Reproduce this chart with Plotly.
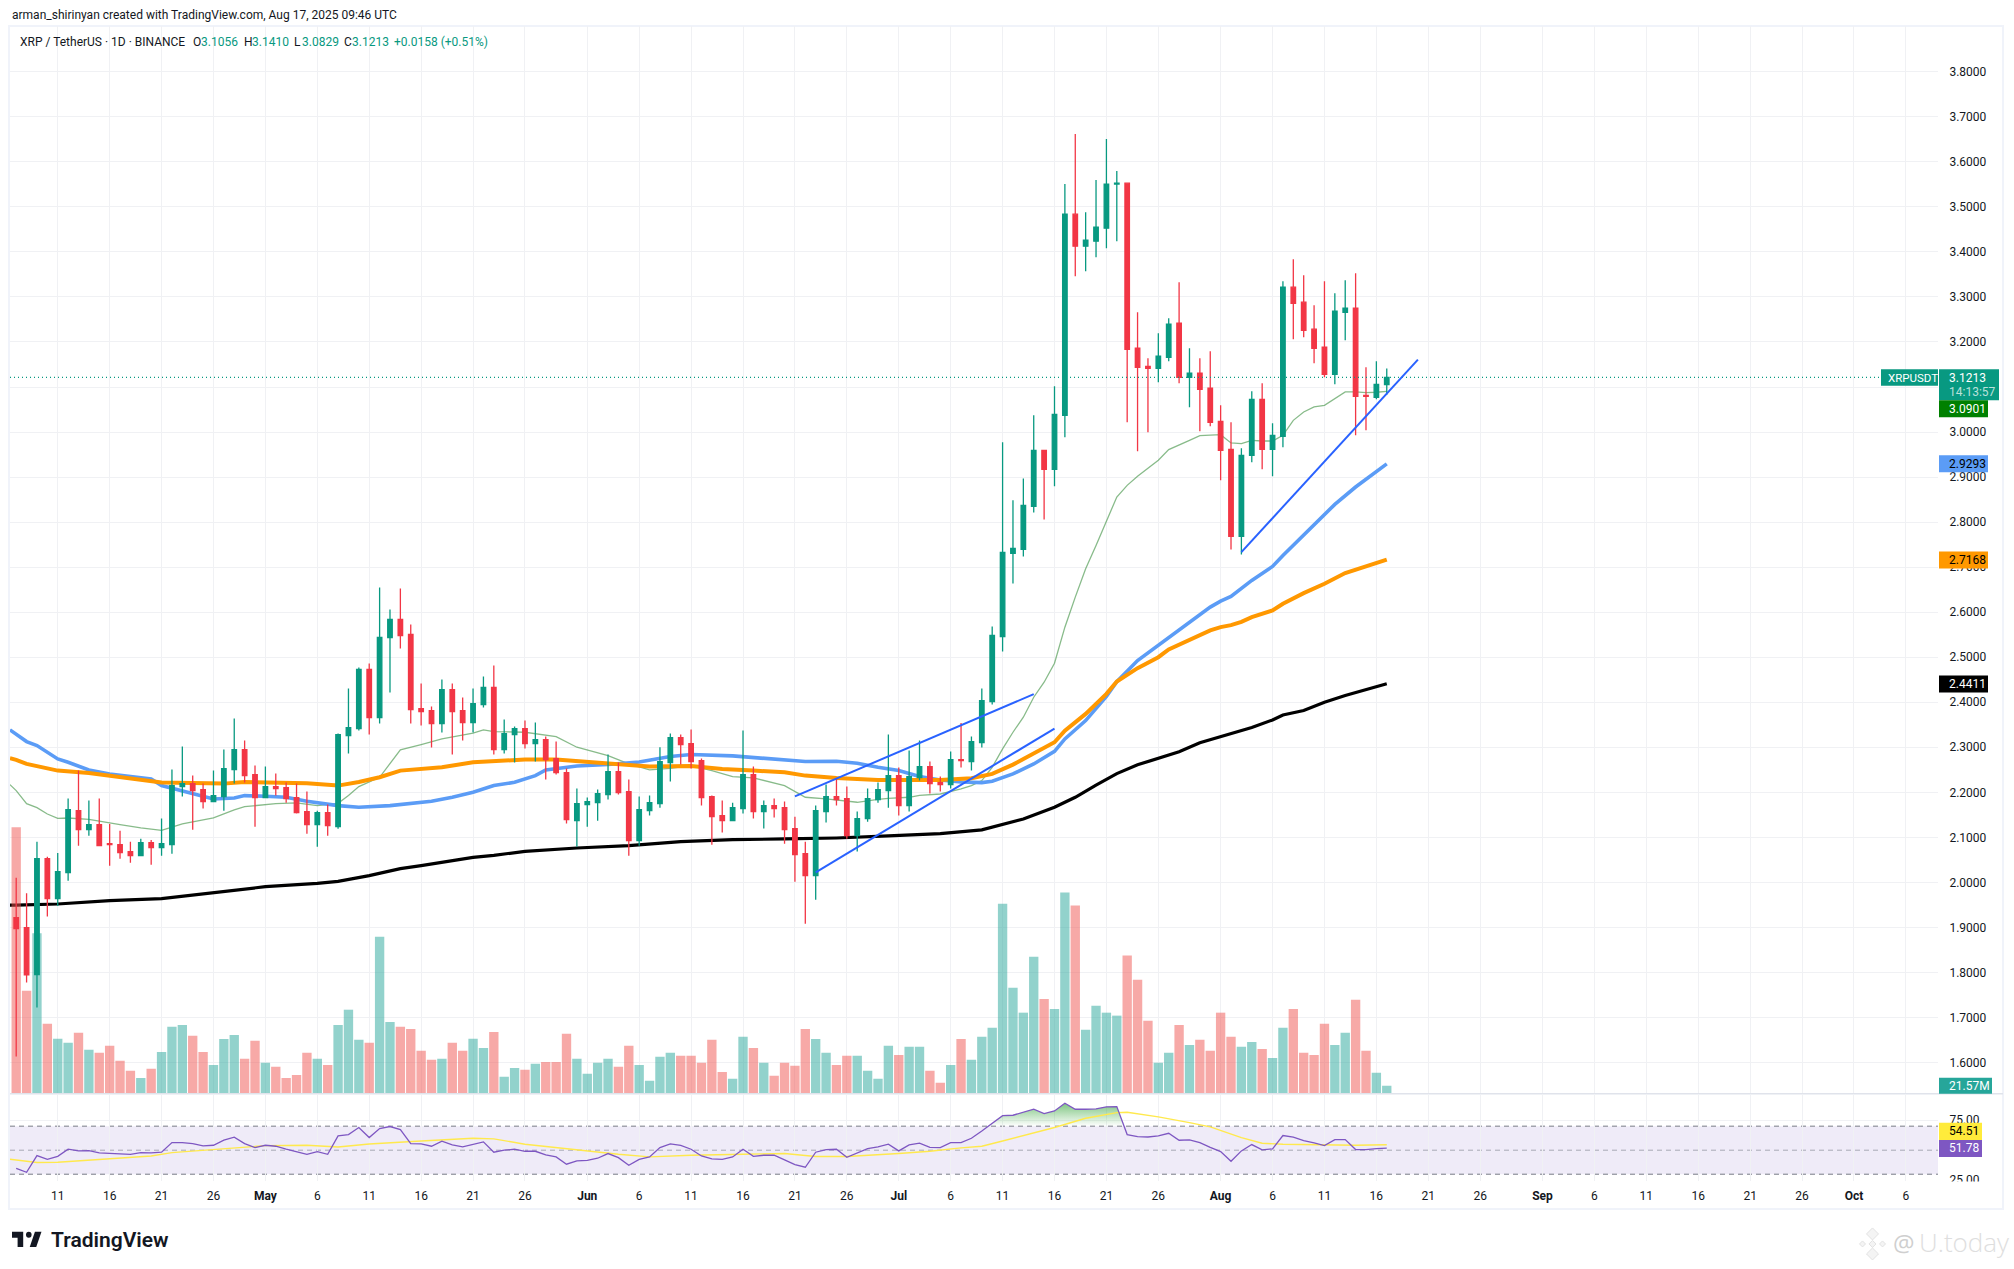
import pandas as pd
import plotly.graph_objects as go

W, H = 2014, 1277
Y_STRETCH = 1.0055
START = "2025-04-07"

# ---------------- data ----------------
OPEN = [1.9216,1.8993,1.795,2.0527,1.9638,2.0216,2.1593,2.1171,2.1282,2.0860,
2.0838,2.0682,2.0593,2.0882,2.0771,2.0838,2.2127,2.2193,2.206,2.1793,
2.1905,2.2505,2.2949,2.2393,2.1882,2.2127,2.2105,2.1882,2.1571,2.1282,
2.1549,2.1238,2.326,2.3416,2.4727,2.366,2.5438,2.5838,2.5505,2.386,
2.3816,2.3527,2.4282,2.3816,2.3549,2.3949,2.4327,2.2949,2.3283,2.3416,
2.3083,2.3171,2.2749,2.2438,2.1371,2.1727,2.1771,2.1949,2.2460,2.2016,
2.0927,2.1594,2.1749,2.2660,2.3216,2.3083,2.2705,2.1905,2.1483,2.1371,
2.1638,2.2394,2.1571,2.1705,2.166,2.1194,2.0638,2.015,2.1571,2.1905,
2.1860,2.1038,2.1416,2.1838,2.2038,2.2371,2.1705,2.2327,2.2572,2.2216,
2.2172,2.2727,2.2683,2.3104,2.4015,2.5460,2.7305,2.7394,2.8349,2.9594,
2.9172,3.0372,3.4838,3.4127,3.4238,3.4527,3.5505,3.5527,3.186,3.146,
3.1416,3.166,3.2416,3.1216,3.1305,3.0972,3.0238,2.9616,2.7683,2.9483,
3.0727,2.9616,2.9905,3.3216,3.2883,3.2283,3.1883,3.1283,3.266,3.2749,
3.0816,3.0771,3.1056]
HIGH = [2.0105,1.9756,2.0905,2.0571,2.0653,2.186,2.2482,2.1816,2.186,2.1297,
2.1149,2.0905,2.0971,2.0942,2.1416,2.2505,2.3016,2.2371,2.2193,2.2482,
2.2949,2.3638,2.3149,2.2593,2.2571,2.2416,2.2216,2.2193,2.2016,2.1593,
2.1727,2.3305,2.4305,2.4771,2.486,2.6549,2.606,2.6527,2.5727,2.4416,
2.3905,2.4505,2.4416,2.4105,2.4305,2.4571,2.4816,2.3616,2.346,2.3594,
2.3549,2.3238,2.3127,2.2527,2.2083,2.1883,2.2060,2.2838,2.2660,2.2283,
2.1905,2.1927,2.3,2.3305,2.3283,2.3394,2.2749,2.1927,2.1816,2.1771,
2.3371,2.2571,2.1816,2.186,2.1794,2.1460,2.0905,2.1705,2.2171,2.2305,
2.2127,2.1572,2.2083,2.2216,2.3283,2.2549,2.2927,2.3149,2.2683,2.2349,
2.2905,2.3541,2.3237,2.4304,2.5682,2.9771,2.8483,2.8971,3.0372,2.9594,
3.1016,3.5505,3.6616,3.4883,3.5594,3.6505,3.5794,3.5527,3.2660,3.1638,
3.2194,3.2527,3.3327,3.186,3.1638,3.1794,3.0594,3.0216,2.9638,3.0905,
3.1083,3.0194,3.3349,3.3838,3.3483,3.2816,3.3349,3.3083,3.3372,3.3527,
3.1438,3.1572,3.1410]
LOW = [1.6134,1.7779,1.7223,1.9245,1.9475,2.0038,2.0816,2.1038,2.0816,2.0371,
2.0527,2.0438,2.0593,2.0393,2.0593,2.0638,2.1905,2.1171,2.1638,2.1793,
2.1593,2.2193,2.2216,2.1238,2.1882,2.1927,2.1771,2.1527,2.1082,2.0793,
2.1038,2.1193,2.2860,2.3371,2.3282,2.3527,2.4216,2.5193,2.3527,2.3482,
2.2993,2.3327,2.2838,2.3149,2.3327,2.3882,2.2838,2.286,2.266,2.2971,
2.2683,2.2283,2.2394,2.1305,2.0794,2.1238,2.1371,2.1838,2.1949,2.0594,
2.0816,2.1483,2.1660,2.2238,2.2616,2.2527,2.1705,2.0838,2.1105,2.1371,
2.1527,2.1416,2.1194,2.1438,2.0860,2.0016,1.9083,1.9616,2.1327,2.1705,
2.0971,2.0683,2.1349,2.1771,2.1660,2.1483,2.1572,2.2260,2.1972,2.2016,
2.2083,2.2549,2.2482,2.2993,2.3949,2.5126,2.6638,2.7238,2.8216,2.806,
2.8794,2.9883,3.3460,3.3572,3.3883,3.4083,3.4238,3.0216,2.9572,2.9994,
3.1105,3.1572,3.1083,3.0549,3.0016,3.0127,2.8927,2.7394,2.7283,2.9327,
2.9172,2.9016,2.966,3.206,3.2105,3.1527,3.1216,3.106,3.2038,2.9927,
3.0038,3.0727,3.0829]
CLOSE = [1.8971,1.7949,2.0527,1.9638,2.0238,2.1616,2.1171,2.1282,2.0816,2.0838,
2.066,2.0593,2.0882,2.0771,2.086,2.2149,2.2193,2.2038,2.1793,2.1927,
2.2527,2.2949,2.2371,2.1882,2.2127,2.2082,2.1860,2.1549,2.1282,2.1549,
2.126,2.3282,2.3438,2.4727,2.3660,2.5438,2.5838,2.5482,2.3838,2.3793,
2.3527,2.4282,2.3793,2.3549,2.3971,2.4327,2.2949,2.3305,2.3416,2.3083,
2.3171,2.2727,2.2438,2.1394,2.1749,2.1794,2.1971,2.2460,2.1994,2.0927,
2.1616,2.1771,2.2683,2.3216,2.306,2.2683,2.1883,2.1460,2.1371,2.1660,
2.2394,2.1571,2.1705,2.1638,2.1172,2.0616,2.015,2.1594,2.1905,2.1838,
2.1038,2.1416,2.1860,2.2060,2.2371,2.1705,2.2349,2.2572,2.2194,2.2172,
2.2727,2.2705,2.3127,2.4037,2.5482,2.7326,2.7416,2.8372,2.9594,2.9172,
3.0394,3.4838,3.4127,3.4260,3.455,3.5505,3.5527,3.1838,3.1438,3.1416,
3.1683,3.2394,3.1216,3.1305,3.0949,3.0216,2.9594,2.7683,2.9483,3.0727,
2.9616,2.9927,3.3216,3.286,3.226,3.186,3.1283,3.2683,3.2749,3.0794,
3.0794,3.106,3.1213]
VOLUME_M = [719,278,433,189,148.5,138,165,119,111,130,
89,62,43,67.5,113,181,186,157,113,78,
148,159,94.5,143,84,73,43,51,111,94.5,
78,186,227,146,138,424,194,181,175,116,
92,94.5,138,116,148.5,124,167,46,70,65,
81,86,86,162,94.5,54,84,94.5,73,130,
78,35,100,111,103,103,84,146,59,40.5,
154,124,84,49,84,76,175,148,111,78,
103,103,62,40.5,130,105,127,127,62,30,
78,148,92,154,178,513,286,219,370,256,
229,543,508,173,238,219,211,373,308,197,
84,111,186,132,146,116,219,154,127,140,
121,97,178,229,111,105,189,132,165,254,
116,57,21.57]

SMA20_DAY = [-0.6,0,1,2,3,4,5,7,10,12,14,16,18,19,21,22,25,27,29,31,32,33,35,37,39,41,44,45,46,49,52,54,57,59,61,63,65,67,69,71,74,76,78,81,83,84,86,87,89,91,92,93,94,95,96,97,98,99,100,101,102,103,104,106,107,108,110,111,113,114,116,117,118,119,120,121,122,123,124,125,126,127,128,129,130,131,132]
SMA20 = [2.2171,2.2038,2.1749,2.166,2.1519,2.1423,2.143,2.1401,2.1282,2.1208,2.1156,2.1297,2.1386,2.143,2.1608,2.1682,2.1749,2.1764,2.1705,2.1755,2.1927,2.2127,2.2334,2.2942,2.306,2.3186,2.3312,2.3386,2.3349,2.3334,2.3238,2.3001,2.2816,2.2631,2.2497,2.2530,2.2594,2.2483,2.2349,2.2320,2.2149,2.189,2.1853,2.1779,2.1845,2.1867,2.189,2.1934,2.1963,2.2074,2.2150,2.226,2.2556,2.2963,2.3334,2.3667,2.4111,2.4445,2.4867,2.5667,2.6334,2.6963,2.7482,2.8557,2.8816,2.9016,2.9372,2.9609,2.9816,2.992,2.9942,2.9757,2.9742,2.9816,2.9801,2.9801,2.9927,3.026,3.0446,3.0557,3.0594,3.0742,3.089,3.089,3.0875,3.0883,3.0901]

EMA50_DAY = [-0.6,0,1,2,4,5,7,9,12,13,14,15,17,19,21,22,24,26,28,31,33,36,40,42,44,46,48,50,51,54,57,60,63,65,69,71,74,76,79,81,83,85,87,89,91,93,94,96,98,100,101,103,105,106,108,110,111,113,115,116,117,119,120,121,122,123,125,127,129,131,132]
EMA50 = [2.3386,2.3297,2.3127,2.3038,2.2742,2.2668,2.2497,2.2408,2.2334,2.2297,2.2149,2.209,2.1964,2.1853,2.1875,2.1927,2.1912,2.189,2.1801,2.1705,2.1668,2.1705,2.1801,2.189,2.2001,2.215,2.2223,2.2371,2.2497,2.2586,2.2616,2.2675,2.2794,2.2838,2.2809,2.2771,2.2734,2.2683,2.269,2.2645,2.2557,2.2483,2.235,2.2275,2.2230,2.2215,2.2245,2.2408,2.263,2.2911,2.3186,2.3593,2.4130,2.4456,2.4925,2.5260,2.5446,2.5779,2.6112,2.6246,2.6349,2.6705,2.6853,2.7016,2.726,2.7483,2.7927,2.8394,2.8779,2.9135,2.9293]

EMA100_DAY = [-0.6,0,1,4,7,10,14,20,22,28,31,33,35,37,41,44,46,49,52,55,58,61,65,68,71,74,76,79,83,87,89,92,94,96,98,100,101,103,105,106,108,110,111,113,115,116,117,118,119,121,122,124,126,128,130,132]
EMA100 = [2.2756,2.2719,2.2630,2.2482,2.243,2.2334,2.2216,2.2193,2.223,2.22,2.2149,2.2230,2.2334,2.2482,2.2556,2.2668,2.269,2.2727,2.2727,2.2668,2.2616,2.2571,2.2586,2.2520,2.2483,2.2446,2.2371,2.2320,2.2275,2.226,2.2274,2.2312,2.2408,2.2615,2.2852,2.3111,2.337,2.3741,2.4186,2.446,2.4757,2.5,2.5172,2.5372,2.5594,2.5668,2.5712,2.5786,2.589,2.6038,2.6186,2.6423,2.663,2.6868,2.7016,2.7168]

EMA200_DAY = [-0.6,0,4,9,14,19,24,29,31,34,37,39,44,46,49,54,59,64,69,74,79,84,89,93,97,100,102,104,106,108,110,112,114,116,119,121,122,124,126,128,130,132]
EMA200 = [1.9497,1.9497,1.952,1.9593,1.964,1.977,1.9904,1.9979,2.0023,2.015,2.0304,2.0371,2.0556,2.06,2.069,2.0764,2.0816,2.0905,2.0949,2.0964,2.0986,2.1031,2.1083,2.1165,2.1408,2.1667,2.189,2.2160,2.2416,2.2610,2.2760,2.2900,2.3100,2.3238,2.3438,2.3608,2.3718,2.3816,2.4001,2.415,2.4275,2.4411]

RSI = [34.9,31.6,45.5,42.4,44.9,50.8,49.4,49.7,47.7,47.5,
46.9,46.6,48,47.7,48.3,56.3,56.3,55.5,53.6,54.1,
58.3,60.8,55.5,52.2,54.1,53.3,50.8,48.6,46.6,48.8,
46.6,61.9,63,68.9,60.5,68,69.7,67.2,55.5,55.2,
53.3,57.5,54.4,52.7,55,56.9,48.3,50,50.8,49.1,
49.1,46.1,44.4,38.3,41.1,41.6,43.3,47.2,43.8,37.5,
42.4,44.4,52.2,55.2,54.1,50.8,45.2,42.7,42.4,44.4,
50.8,44.9,45.8,45.8,41.9,38,35.8,48.3,50.5,50.8,
44.1,47.7,51.3,52.7,55,49.4,54.4,55.8,52.4,52.2,
56.3,56.3,59.9,66,72.4,78.8,79.1,81.6,84.1,80.5,
82.7,89.1,84.1,84.1,84.4,86.1,86.3,63,61.3,61,
61.9,64.1,58.3,58.6,56.3,52.4,48.8,40.8,49.4,54.7,
50.3,51.1,62.2,60.8,58,56,53.8,58.8,58.8,50.5,
50.5,51.3,51.78]
RSI_MA_DAY = [-0.6,2,4,7,10,13,15,19,24,28,31,34,37,39,44,46,49,54,58,61,65,70,74,77,80,85,88,91,93,95,98,100,103,106,107,110,113,115,118,120,122,125,126,129,132]
RSI_MA = [42.4,39.7,40,41.6,43.3,45.2,48,50.5,53.8,54.1,52.7,55.2,56.9,57.7,59.9,59.4,55,50,46.6,44.4,45.8,46.6,47.2,44.7,44.7,47.2,49.1,51.9,53.3,57.7,64.1,68.9,76.6,81.3,81.6,77.7,73,69.4,60.5,55.8,55,54.7,54.1,54.1,54.51]

TREND_A_DAY, TREND_A = [75, 98], [2.1911, 2.418]
TREND_B_DAY, TREND_B = [77, 100], [2.0222, 2.3416]
TREND_C_DAY, TREND_C = [118, 135], [2.7333, 3.1609]

PRICE_TICKS = [1.6,1.7,1.8,1.9,2.0,2.1,2.2,2.3,2.4,2.5,2.6,2.7,2.8,2.9,3.0,3.1,3.2,3.3,3.4,3.5,3.6,3.7,3.8]
RSI_TICKS = [25, 75]
TIME_TICKS = ["2025-04-11","2025-04-16","2025-04-21","2025-04-26","2025-05-01","2025-05-06","2025-05-11","2025-05-16","2025-05-21","2025-05-26",
"2025-06-01","2025-06-06","2025-06-11","2025-06-16","2025-06-21","2025-06-26","2025-07-01","2025-07-06","2025-07-11","2025-07-16","2025-07-21","2025-07-26",
"2025-08-01","2025-08-06","2025-08-11","2025-08-16","2025-08-21","2025-08-26","2025-09-01","2025-09-06","2025-09-11","2025-09-16","2025-09-21","2025-09-26",
"2025-10-01","2025-10-06"]
TIME_LABELS = ["11","16","21","26","<b>May</b>","6","11","16","21","26","<b>Jun</b>","6","11","16","21","26","<b>Jul</b>","6","11","16","21","26",
"<b>Aug</b>","6","11","16","21","26","<b>Sep</b>","6","11","16","21","26","<b>Oct</b>","6"]

LAST_PRICE = 3.1213

# ---------------- helpers ----------------
UP, DOWN = "#089981", "#f23645"
VOL_UP, VOL_DOWN = "rgba(38,166,154,0.5)", "rgba(239,83,80,0.5)"
FONT = "Roboto"
INK = "#131722"
base = pd.Timestamp(START)
def day(d): return base + pd.to_timedelta(d, unit="D")
def days(lst): return [day(d) for d in lst]
def xp(px): return px / W
def yp(py): return 1 - py * Y_STRETCH / H
def pd_of_px(px): return (px - 16.2) / 10.383

dates = days(range(len(CLOSE)))
vol_colors = [VOL_UP if c >= o else VOL_DOWN for o, c in zip(OPEN, CLOSE)]
fig = go.Figure()

for d, v, c, w in [(SMA20_DAY, SMA20, "rgba(56,142,60,0.6)", 1.3),
                   (EMA50_DAY, EMA50, "#5b9cf6", 3.6),
                   (EMA100_DAY, EMA100, "#ff9800", 4),
                   (EMA200_DAY, EMA200, "#000000", 3.2)]:
    fig.add_trace(go.Scatter(x=days(d), y=v, mode="lines", line=dict(color=c, width=w), yaxis="y", hoverinfo="skip", showlegend=False))

fig.add_trace(go.Bar(x=dates, y=VOLUME_M, marker=dict(color=vol_colors, line=dict(width=0)), yaxis="y2", hoverinfo="skip", showlegend=False))

fig.add_trace(go.Candlestick(x=dates, open=OPEN, high=HIGH, low=LOW, close=CLOSE, yaxis="y4",
    increasing=dict(line=dict(color=UP, width=1.3), fillcolor=UP),
    decreasing=dict(line=dict(color=DOWN, width=1.3), fillcolor=DOWN),
    whiskerwidth=0, hoverinfo="skip", showlegend=False))

fig.add_trace(go.Scatter(x=[day(pd_of_px(10)), day(pd_of_px(1881))], y=[LAST_PRICE, LAST_PRICE], mode="lines",
    line=dict(color=UP, width=1.1, dash="1px,3px"), yaxis="y4", hoverinfo="skip", showlegend=False))
for d, v in [(TREND_A_DAY, TREND_A), (TREND_B_DAY, TREND_B), (TREND_C_DAY, TREND_C)]:
    fig.add_trace(go.Scatter(x=days(d), y=v, mode="lines", line=dict(color="#2962ff", width=2), yaxis="y4", hoverinfo="skip", showlegend=False))

ob_idx = [i for i, v in enumerate(RSI) if v > 70]
ob_days = [ob_idx[0] - 0.4] + ob_idx + [ob_idx[-1] + 0.7]
ob_vals = [70] + [RSI[i] for i in ob_idx] + [70]
fig.add_trace(go.Scatter(x=days(ob_days), y=[70] * len(ob_days), mode="lines", line=dict(width=0), yaxis="y3", hoverinfo="skip", showlegend=False))
fig.add_trace(go.Scatter(x=days(ob_days), y=ob_vals, mode="lines", line=dict(width=0), fill="tonexty", yaxis="y3",
    fillgradient=dict(type="vertical", start=70, stop=90,
                      colorscale=[[0, "rgba(76,175,80,0)"], [1, "rgba(76,175,80,0.75)"]]),
    hoverinfo="skip", showlegend=False))
fig.add_trace(go.Scatter(x=days(RSI_MA_DAY), y=RSI_MA, mode="lines", line=dict(color="#ffe94d", width=1.4), yaxis="y3", hoverinfo="skip", showlegend=False))
fig.add_trace(go.Scatter(x=dates, y=RSI, mode="lines", line=dict(color="#7e57c2", width=1.3), yaxis="y3", hoverinfo="skip", showlegend=False))

# ---------------- page furniture ----------------
shapes = []
def rect(x0, y0, x1, y1, fill, layer="above", line=None):
    shapes.append(dict(type="rect", xref="paper", yref="paper", x0=xp(x0), x1=xp(x1), y0=yp(y0), y1=yp(y1),
                       fillcolor=fill, line=dict(width=0) if line is None else line, layer=layer))
def poly(points, fill, line=None):
    path = "M " + " L ".join(f"{xp(a):.5f},{yp(b):.5f}" for a, b in points) + " Z"
    shapes.append(dict(type="path", xref="paper", yref="paper", path=path, fillcolor=fill,
                       line=dict(width=0) if line is None else line, layer="above"))

rect(9, 26, 2003, 1208, "rgba(0,0,0,0)", "below", dict(color="#f0f3fa", width=2))
shapes.append(dict(type="line", xref="paper", yref="paper", x0=xp(10), x1=xp(2003), y0=yp(1093), y1=yp(1093),
                   line=dict(color="#e0e3eb", width=1.5), layer="above"))
shapes.append(dict(type="rect", xref="paper", yref="y3", x0=xp(10), x1=xp(1938), y0=30, y1=70,
                   fillcolor="rgba(126,87,194,0.12)", line=dict(width=0), layer="below"))
for lv, col in [(70, "#787b86"), (50, "rgba(120,123,134,0.6)"), (30, "#787b86")]:
    shapes.append(dict(type="line", xref="paper", yref="y3", x0=xp(10), x1=xp(1938), y0=lv, y1=lv,
                       line=dict(color=col, width=1, dash="5px,4px"), layer="below"))

rect(1939, 1180.5, 2001, 1188, "#ffffff")

ann = []
def text(x, y, s, color=INK, size=12, anchor="left", family=FONT, weight=None):
    f = dict(color=color, size=size, family=family)
    if weight: f["weight"] = weight
    ann.append(dict(xref="paper", yref="paper", x=xp(x), y=yp(y), text=s, showarrow=False, xanchor=anchor, yanchor="middle",
                    font=f, align=anchor))

HEAD = 12
text(10, 15, "arman_shirinyan created with TradingView.com, Aug 17, 2025 09:46 UTC", size=HEAD)
text(18, 42, "XRP / TetherUS · 1D · BINANCE", size=HEAD)
for x, s in [(191, "O"), (242, "H"), (292, "L"), (342, "C")]:
    text(x, 42, s, size=HEAD)
for x, s in [(199, "3.1056"), (250, "3.1410"), (300, "3.0829"), (350, "3.1213"), (392, "+0.0158 (+0.51%)")]:
    text(x, 42, s, color=UP, size=HEAD)

rect(1881, 369, 1938, 385.5, UP)
text(1886, 377.5, "XRPUSDT", color="#ffffff", size=11.5)
rect(1939, 369, 1999, 400, UP)
text(1947, 378, "3.1213", color="#ffffff")
text(1947, 392, "14:13:57", color="rgba(255,255,255,0.72)")
rect(1939, 400, 1988, 417, "#008000")
text(1947, 408.5, "3.0901", color="#ffffff")
rect(1939, 455, 1988, 472, "#5b9cf6")
text(1947, 463.5, "2.9293", color="#000000")
rect(1939, 551, 1988, 568, "#ff9800")
text(1947, 559.5, "2.7168", color="#000000")
rect(1939, 675, 1988, 692, "#000000")
text(1947, 683.5, "2.4411", color="#ffffff")
rect(1939, 1077, 1992, 1093, "#26a69a")
text(1947, 1085, "21.57M", color="#ffffff")
rect(1939, 1122, 1982, 1139, "#ffeb3b")
text(1947, 1130.5, "54.51", color="#000000")
rect(1939, 1139, 1982, 1156, "#7e57c2")
text(1947, 1147.5, "51.78", color="#ffffff")

def lx(u): return 12 + (u - 2) * 0.933
def ly(u): return 1230.7 + (u - 6) * 1.02
logo = "#131722"
poly([(lx(14), ly(6)), (lx(2), ly(6)), (lx(2), ly(12)), (lx(8), ly(12)), (lx(8), ly(21)), (lx(14), ly(21))], logo)
poly([(lx(28), ly(21)), (lx(21), ly(21)), (lx(26.6), ly(6)), (lx(33.6), ly(6))], logo)
shapes.append(dict(type="circle", xref="paper", yref="paper", x0=xp(lx(17)), x1=xp(lx(23)), y0=yp(ly(12)), y1=yp(ly(6)),
                   fillcolor=logo, line=dict(width=0), layer="above"))
text(49, 1239, "TradingView", color=logo, size=21, weight=600)

cx, cy = 1872.5, 1243
for dx, dy, r in [(0, 0, 3.5), (-10, 0, 3), (10, 0, 3), (0, -10, 6), (0, 10, 6)]:
    poly([(cx + dx, cy + dy - r), (cx + dx + r, cy + dy), (cx + dx, cy + dy + r), (cx + dx - r, cy + dy)],
         "#f4f4f4", dict(color="#e2e2e2", width=1))
text(1891, 1242, "@", color="#cfcfcf", size=24, family="Open Sans")
text(1917, 1241, "U.today", color="#dedede", size=26, family="Open Sans", weight=300)

price_top = 3 + (431.7 - 26) / 450
price_bot = 3 - (1093 - 431.7) / 450
rsi_top = 50 + (1149.3 - 1094) / 1.2
rsi_bot = 50 - (1180 - 1149.3) / 1.2
tick_font = dict(family=FONT, size=12, color=INK)
GRID = "#f0f1f4"
hidden_price_labels = {3.1}

fig.update_layout(
    width=W, height=H, autosize=False, margin=dict(l=0, r=0, t=0, b=0),
    paper_bgcolor="#ffffff", plot_bgcolor="#ffffff", showlegend=False, hovermode=False,
    bargap=0.1, boxgap=0.38, shapes=shapes, annotations=ann,
    xaxis=dict(type="date", domain=[xp(10), xp(1938)], anchor="y3",
               range=[day(pd_of_px(10)), day(pd_of_px(1938))],
               tickmode="array", tickvals=TIME_TICKS, ticktext=TIME_LABELS, tickangle=0,
               showgrid=True, gridcolor=GRID, gridwidth=1, zeroline=False, showline=False,
               ticks="outside", ticklen=4, tickcolor="rgba(0,0,0,0)", tickfont=tick_font,
               rangeslider=dict(visible=False), fixedrange=True),
    yaxis=dict(domain=[yp(1093), yp(26)], range=[price_bot, price_top], side="right", anchor="x",
               tickmode="array", tickvals=PRICE_TICKS,
               ticktext=["" if v in hidden_price_labels else f"{v:.4f}" for v in PRICE_TICKS],
               showgrid=True, gridcolor=GRID, gridwidth=1, zeroline=False, showline=False,
               ticks="outside", ticklen=8, tickcolor="rgba(0,0,0,0)", tickfont=tick_font, fixedrange=True),
    yaxis2=dict(domain=[yp(1093), yp(26)], range=[0, 2.7 * (1093 - 26)], overlaying="y", anchor="x", visible=False, fixedrange=True),
    yaxis4=dict(domain=[yp(1093), yp(26)], range=[price_bot, price_top], overlaying="y", anchor="x", visible=False, fixedrange=True),
    yaxis3=dict(domain=[yp(1180), yp(1094)], range=[rsi_bot, rsi_top], side="right", anchor="x",
                tickmode="array", tickvals=RSI_TICKS, ticktext=[f"{v:.2f}" for v in RSI_TICKS],
                showgrid=True, gridcolor=GRID, gridwidth=1, zeroline=False, showline=False,
                ticks="outside", ticklen=8, tickcolor="rgba(0,0,0,0)", tickfont=tick_font, fixedrange=True),
)

fig.write_html("out.html", config=dict(displayModeBar=False, staticPlot=True),
               post_script="document.body.style.margin='0';")
